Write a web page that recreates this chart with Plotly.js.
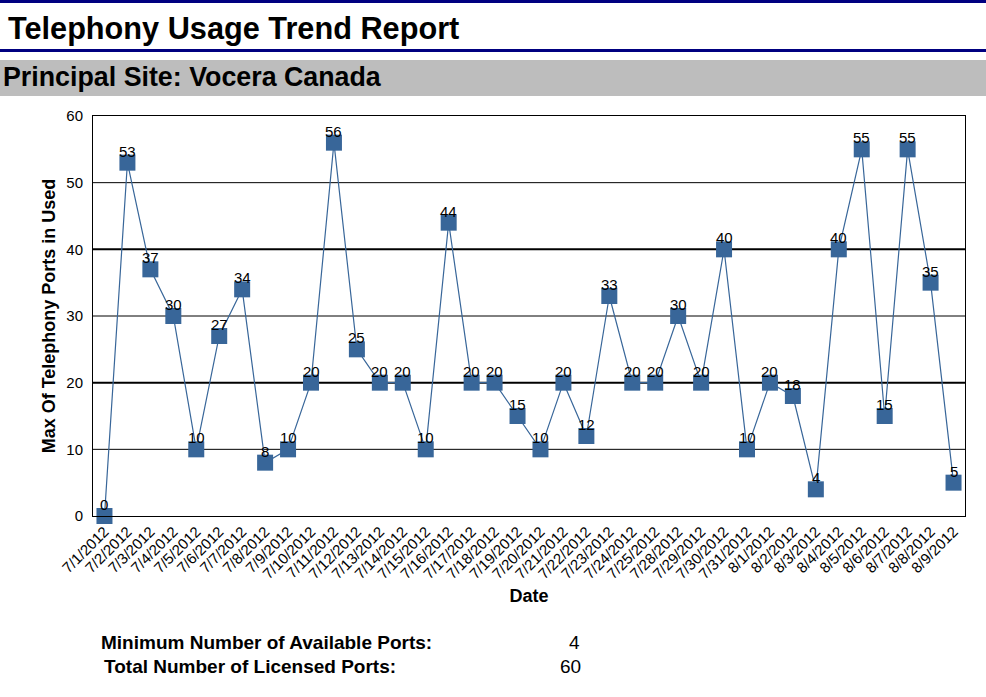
<!DOCTYPE html>
<html>
<head>
<meta charset="utf-8">
<script src="https://cdn.plot.ly/plotly-3.0.1.min.js"></script>
<style>
html,body{margin:0;padding:0;background:#fff;}
#chart{width:986px;height:697px;}
</style>
</head>
<body>
<div id="chart"></div>
<script>
const dates = ["7/1/2012","7/2/2012","7/3/2012","7/4/2012","7/5/2012","7/6/2012","7/7/2012","7/8/2012","7/9/2012","7/10/2012",
"7/11/2012","7/12/2012","7/13/2012","7/14/2012","7/15/2012","7/16/2012","7/17/2012","7/18/2012","7/19/2012","7/20/2012",
"7/21/2012","7/22/2012","7/23/2012","7/24/2012","7/25/2012","7/28/2012","7/29/2012","7/30/2012","7/31/2012",
"8/1/2012","8/2/2012","8/3/2012","8/4/2012","8/5/2012","8/6/2012","8/7/2012","8/8/2012","8/9/2012"];
const maxPorts = [0,53,37,30,10,27,34,8,10,20,
56,25,20,20,10,44,20,20,15,10,
20,12,33,20,20,30,20,40,10,
20,18,4,40,55,15,55,35,5];
const yTicks = [0,10,20,30,40,50,60];
const thickGrid = [20,40];
const thinGrid = [10,30,50];
const minAvailable = 4;
const totalLicensed = 60;

const FONT = "Liberation Sans, Arial, sans-serif";
const color = "#386699";

const W=986,H=697,L=93,R=21,T=116,B=181;
const pw=W-L-R, ph=H-T-B;
function px(x){return (x-L)/pw;}
function py(y){return (H-B-y)/ph;}
const sh = [];
sh.push({type:'rect', xref:'paper', yref:'paper', x0:px(0), x1:px(986), y0:py(3), y1:py(0), fillcolor:'#000080', line:{width:0}});
sh.push({type:'rect', xref:'paper', yref:'paper', x0:px(0), x1:px(986), y0:py(52), y1:py(49), fillcolor:'#000080', line:{width:0}});
sh.push({type:'rect', xref:'paper', yref:'paper', x0:px(0), x1:px(986), y0:py(96), y1:py(60), fillcolor:'#bdbdbd', line:{width:0}});
thickGrid.forEach(v=>sh.push({type:'line', xref:'paper', yref:'y', x0:0, x1:1, y0:v, y1:v, line:{color:'#000', width:2}, layer:'below'}));
thinGrid.forEach(v=>sh.push({type:'line', xref:'paper', yref:'y', x0:0, x1:1, y0:v, y1:v, line:{color:'#000', width:1}, layer:'below'}));

const annotations = [
  {text:'<b>Telephony Usage Trend Report</b>', xref:'paper', yref:'paper', x:px(6), y:py(29), xanchor:'left', yanchor:'middle', showarrow:false, font:{family:FONT, size:30.7, color:'#000'}},
  {text:'<b>Principal Site: Vocera Canada</b>', xref:'paper', yref:'paper', x:px(1), y:py(77), xanchor:'left', yanchor:'middle', showarrow:false, font:{family:FONT, size:26.8, color:'#000'}},
  {text:'<b>Minimum Number of Available Ports:</b>', xref:'paper', yref:'paper', x:px(99), y:py(642), xanchor:'left', yanchor:'middle', showarrow:false, font:{family:FONT, size:19, color:'#000'}},
  {text:String(minAvailable), xref:'paper', yref:'paper', x:px(582), y:py(642), xanchor:'right', yanchor:'middle', showarrow:false, font:{family:FONT, size:19, color:'#000'}},
  {text:'<b>Total Number of Licensed Ports:</b>', xref:'paper', yref:'paper', x:px(102), y:py(666), xanchor:'left', yanchor:'middle', showarrow:false, font:{family:FONT, size:19, color:'#000'}},
  {text:String(totalLicensed), xref:'paper', yref:'paper', x:px(583), y:py(666), xanchor:'right', yanchor:'middle', showarrow:false, font:{family:FONT, size:19, color:'#000'}},
];
dates.forEach((d,i)=>annotations.push({
  x:d, y:maxPorts[i], xref:'x', yref:'y', text:String(maxPorts[i]), showarrow:false,
  yanchor:'bottom', xanchor:'center', yshift:1, font:{family:FONT, size:15, color:'#000'}
}));

const trace = {
  x: dates, y: maxPorts, type:'scatter', mode:'lines+markers',
  line:{color:color, width:1.2},
  marker:{symbol:'square', size:16, color:color},
  cliponaxis:false, hoverinfo:'skip'
};

const layout = {
  width:W, height:H,
  margin:{l:L, r:R, t:T, b:B, pad:0},
  paper_bgcolor:'#fff', plot_bgcolor:'#fff',
  showlegend:false,
  font:{family:FONT, color:'#000'},
  xaxis:{type:'category', range:[-0.5, dates.length-0.5], tickangle:-45, tickfont:{family:FONT, size:15},
    showgrid:false, showline:true, mirror:true, linecolor:'#000', linewidth:1, ticks:'', fixedrange:true,
    title:{text:'<b>Date</b>', font:{family:FONT, size:18}, standoff:8}},
  yaxis:{range:[0,60], tickvals:yTicks, ticktext:yTicks.map(String), tickfont:{family:FONT, size:15},
    showgrid:false, zeroline:false, showline:true, mirror:true, linecolor:'#000', linewidth:1,
    ticks:'outside', ticklen:6, tickcolor:'rgba(0,0,0,0)',
    title:{text:'<b>Max Of Telephony Ports in Used</b>', font:{family:FONT, size:18}, standoff:6}},
  shapes: sh,
  annotations: annotations
};

Plotly.newPlot('chart', [trace], layout, {displayModeBar:false, staticPlot:true});
</script>
</body>
</html>
